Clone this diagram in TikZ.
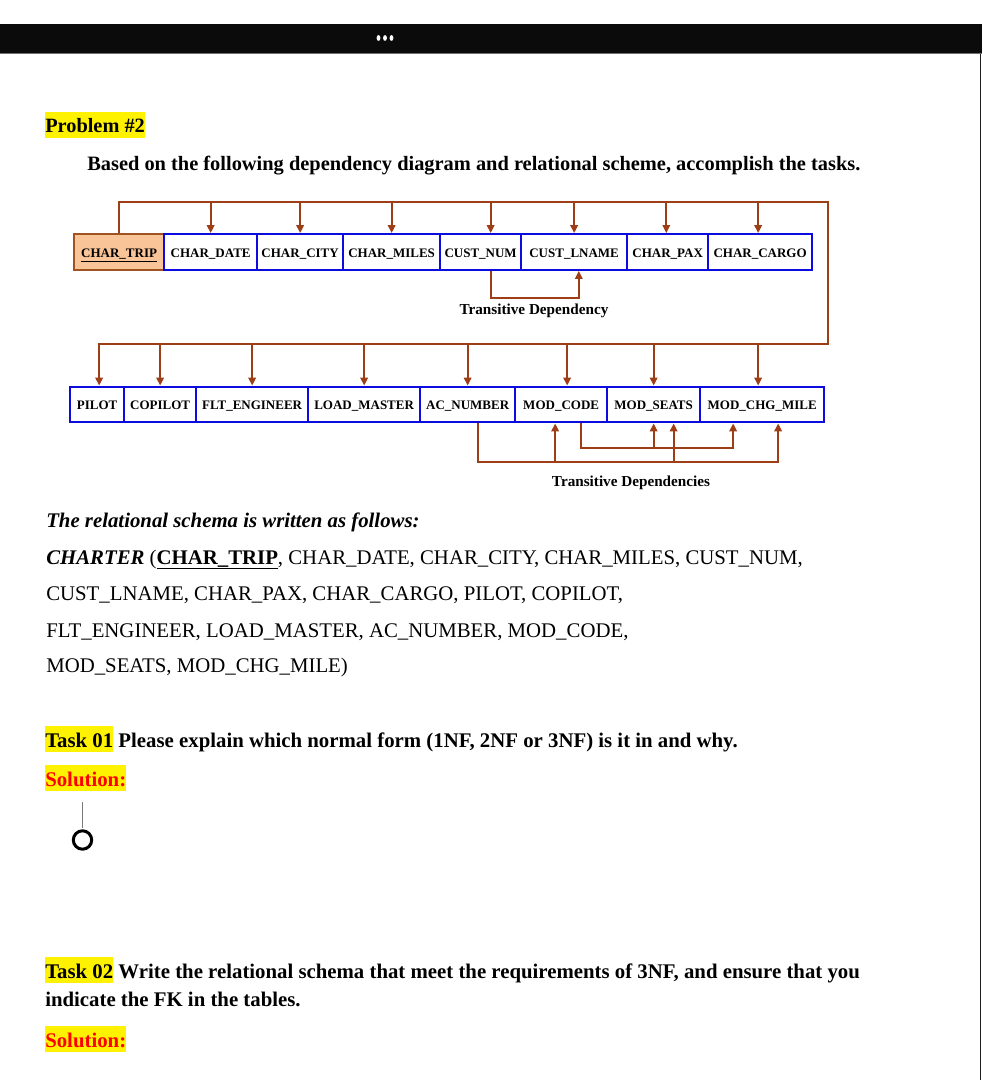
\documentclass[tikz,border=0pt]{standalone}
\usepackage{fontspec}
\setmainfont{Liberation Serif}
\usetikzlibrary{arrows.meta,calc}

\newcommand{\hlbox}[1]{{\setlength{\fboxsep}{0pt}\colorbox{yellow}{\rule[-3.75pt]{0pt}{19.5pt}#1}}}
\newcommand{\pkline}[1]{\underline{#1}}

\tikzset{
  fld/.style={draw={rgb, 255:red, 12; green, 12; blue, 225}, line width=1.7pt, minimum width=#1*0.75pt, minimum height=26.6pt, inner sep=0pt, text height=8pt, text depth=0pt, anchor=west, font=\fontsize{9.75}{11}\selectfont\bfseries},
  pkfld/.style={fld=#1, draw={rgb, 255:red, 160; green, 82; blue, 32}, fill={rgb, 255:red, 248; green, 196; blue, 152}},
  dep/.style={draw={rgb, 255:red, 158; green, 62; blue, 22}, line width=1.5pt},
  deparr/.style={dep, -{Triangle[length=6pt,width=5.5pt]}},
  txt/.style={anchor=base west, inner sep=0pt, font=\fontsize{15.6}{19}\selectfont},
  btxt/.style={txt, font=\fontsize{15.6}{19}\selectfont\bfseries},
  lbl/.style={anchor=base, inner sep=0pt, font=\fontsize{11.4}{13}\selectfont\bfseries}
}

\begin{document}
\begin{tikzpicture}[x=0.75pt,y=0.75pt,yscale=-1,xscale=1]
%set diagram size to the screenshot
\path[use as bounding box] (0,0) rectangle (982,1080);
\fill[white] (0,0) rectangle (982,1080);

%Shape: Rectangle (top bar)
\fill[fill={rgb, 255:red, 11; green, 11; blue, 11}] (0,24) rectangle (982,54);
\draw[draw={rgb, 255:red, 110; green, 110; blue, 110}, line width=0.75pt] (0,54) -- (982,54);
\fill[white] (378.5,38) ellipse (1.9 and 2.9);
\fill[white] (385,38) ellipse (1.9 and 2.9);
\fill[white] (391.5,38) ellipse (1.9 and 2.9);
%Straight Lines (page edge)
\draw[draw={rgb, 255:red, 30; green, 30; blue, 30}, line width=1.1pt] (980.5,54) -- (980.5,1080);

% Text Node
\node (prob) [btxt, font=\fontsize{15.25}{19}\selectfont\bfseries] at (45,133) {\hlbox{Problem \#2}};
% Text Node
\node (intro) [btxt, font=\fontsize{15.3}{19}\selectfont\bfseries] at (87,171) {Based on the following dependency diagram and relational scheme, accomplish the tasks.};

%Shape: Rectangle row 1
\node (trip) [pkfld=90] at (73,252) {\pkline{CHAR\_TRIP}};
\node (cdate) [fld=93] at (163,252) {CHAR\_DATE};
\node (ccity) [fld=86] at (256,252) {CHAR\_CITY};
\node (cmiles) [fld=97] at (342,252) {CHAR\_MILES};
\node (cnum) [fld=81] at (439,252) {CUST\_NUM};
\node (clname) [fld=106] at (520,252) {CUST\_LNAME};
\node (cpax) [fld=81] at (626,252) {CHAR\_PAX};
\node (ccargo) [fld=104] at (707,252) {CHAR\_CARGO};

%Shape: Rectangle row 2
\node (pilot) [fld=54] at (69,404.5) {PILOT};
\node (copilot) [fld=72] at (123,404.5) {COPILOT};
\node (flteng) [fld=112] at (195,404.5) {FLT\_ENGINEER};
\node (loadm) [fld=112] at (307,404.5) {LOAD\_MASTER};
\node (acnum) [fld=95] at (419,404.5) {AC\_NUMBER};
\node (mcode) [fld=92] at (514,404.5) {MOD\_CODE};
\node (mseats) [fld=93] at (606,404.5) {MOD\_SEATS};
\node (mchg) [fld=124] at (699,404.5) {MOD\_CHG\_MILE};

%Straight Lines (key frame)
\coordinate (topR) at (828,202);
\coordinate (midR) at (828,344);
\draw[deparr] (trip.north) |- (topR) -- (midR) -| ([xshift=1.5pt]pilot.north);
%Straight Lines (row 1 drops)
\draw[deparr] (cdate.north |- topR) -- (cdate.north);
\draw[deparr] (ccity.north |- topR) -- (ccity.north);
\draw[deparr] (cmiles.north |- topR) -- (cmiles.north);
\draw[deparr] ([xshift=7.5pt]cnum.north |- topR) -- ([xshift=7.5pt]cnum.north);
\draw[deparr] (clname.north |- topR) -- (clname.north);
\draw[deparr] ([xshift=-1pt]cpax.north |- topR) -- ([xshift=-1pt]cpax.north);
\draw[deparr] ([xshift=-1.5pt]ccargo.north |- topR) -- ([xshift=-1.5pt]ccargo.north);
%Straight Lines (row 2 drops)
\draw[deparr] (copilot.north |- midR) -- (copilot.north);
\draw[deparr] (flteng.north |- midR) -- (flteng.north);
\draw[deparr] (loadm.north |- midR) -- (loadm.north);
\draw[deparr] (acnum.north |- midR) -- (acnum.north);
\draw[deparr] ([xshift=4.5pt]mcode.north |- midR) -- ([xshift=4.5pt]mcode.north);
\draw[deparr] (mseats.north |- midR) -- (mseats.north);
\draw[deparr] ([xshift=-3pt]mchg.north |- midR) -- ([xshift=-3pt]mchg.north);

%Straight Lines (transitive dependency)
\draw[deparr] ([xshift=7.5pt]cnum.south) -- ++(0,27) -| ([xshift=3.5pt]clname.south);
% Text Node
\node (tdlbl) [lbl] at (534,315) {Transitive Dependency};

%Straight Lines (transitive dependencies)
\draw[deparr] ([xshift=7.5pt]acnum.south) -- ++(0,39) coordinate (lowL) -| ([xshift=12pt]mchg.south);
\draw[deparr] ([xshift=-4.5pt]mcode.south |- lowL) -- ([xshift=-4.5pt]mcode.south);
\draw[deparr] ([xshift=15pt]mseats.south |- lowL) -- ([xshift=15pt]mseats.south);
\draw[deparr] ([xshift=15pt]mcode.south) -- ++(0,25) coordinate (lowM) -| ([xshift=-21.75pt]mchg.south);
\draw[deparr] (mseats.south |- lowM) -- (mseats.south);
% Text Node
\node (tdslbl) [lbl] at (631,486) {Transitive Dependencies};

% Text Node (schema)
\node (schemahd) [txt] at (46,527) {\textbf{\textit{The relational schema is written as follows:}}};
\node (schema1) [txt] at (46,564) {\textbf{\textit{CHARTER}} (\textbf{\underline{CHAR\_TRIP}}, CHAR\_DATE, CHAR\_CITY, CHAR\_MILES, CUST\_NUM,};
\node (schema2) [txt] at (46,600) {CUST\_LNAME, CHAR\_PAX, CHAR\_CARGO, PILOT, COPILOT,};
\node (schema3) [txt] at (46,637) {FLT\_ENGINEER, LOAD\_MASTER, AC\_NUMBER, MOD\_CODE,};
\node (schema4) [txt] at (46,672) {MOD\_SEATS, MOD\_CHG\_MILE)};

% Text Node (task 01)
\node (task1) [btxt] at (45,747) {\hlbox{Task 01} Please explain which normal form (1NF, 2NF or 3NF) is it in and why.};
\node (sol1) [btxt] at (45,786) {\hlbox{\color{red}Solution:}};

%Shape: cursor
\draw[draw={rgb, 255:red, 120; green, 120; blue, 120}, line width=0.9pt] (82.5,802) -- (82.5,828);
\draw[line width=2.25pt] (82.5,840) circle[radius=6.9pt];

% Text Node (task 02)
\node (task2) [btxt] at (45,978) {\hlbox{Task 02} Write the relational schema that meet the requirements of 3NF, and ensure that you};
\node (task2b) [btxt] at (45,1006) {indicate the FK in the tables.};
\node (sol2) [btxt] at (45,1047) {\hlbox{\color{red}Solution:}};

\end{tikzpicture}
\end{document}
